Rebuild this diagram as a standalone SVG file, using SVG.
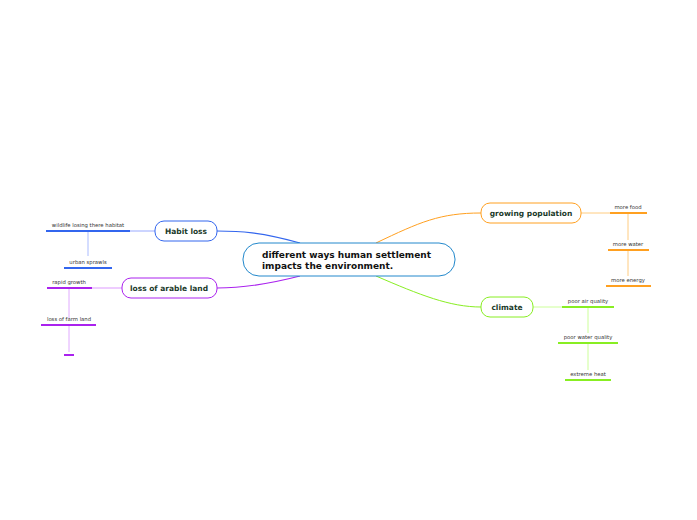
<svg xmlns="http://www.w3.org/2000/svg" width="697" height="520" viewBox="0 0 697 520">
<style>
text{font-family:"DejaVu Sans",sans-serif}
.t{font-size:7.5px;font-weight:bold;fill:#1a3a2a;text-anchor:middle}
.s{font-size:5.3px;fill:#333;text-anchor:middle}
.n{fill:#fff;stroke-width:1}
path{fill:none}
</style>
<rect width="697" height="520" fill="#fff"/>
<g id="connectors">
<path d="M300 243 C260 232 240 231 217 231" stroke="#3366ee" stroke-width="1.2"/>
<path d="M300 276 C265 285 240 288 217 288" stroke="#aa22ee" stroke-width="1.2"/>
<path d="M376 243 C420 222 440 213 481 213" stroke="#ffa020" stroke-width="1"/>
<path d="M376 276 C420 295 450 307 481 307" stroke="#88ee22" stroke-width="1"/>
<path d="M155 231 H130" stroke="#99aaff"/>
<path d="M88 231 V256" stroke="#aabbff"/>
<path d="M122 288 H92" stroke="#dd99ff"/>
<path d="M69 288 V318 M69 325 V352" stroke="#e0aaff"/>
<path d="M581 213 H610 M628 213 V240 M628 250 V276" stroke="#ffcc80"/>
<path d="M533 307 H562 M588 307 V333 M588 343 V370" stroke="#ccff99"/>
</g>
<g id="center"><rect class="n" x="243" y="243" width="212" height="33" rx="16" stroke="#2288cc"/>
<text x="262" y="258" font-size="9" font-weight="bold" fill="#111">different ways human settlement</text>
<text x="262" y="269" font-size="9" font-weight="bold" fill="#111">impacts the environment.</text></g>
<g id="habit"><rect class="n" x="155" y="221" width="62" height="20" rx="9" stroke="#3366ee"/><text class="t" x="186" y="234">Habit loss</text></g>
<g id="arable"><rect class="n" x="122" y="278" width="95" height="20" rx="9" stroke="#aa22ee"/><text class="t" x="169" y="291">loss of arable land</text></g>
<g id="growing"><rect class="n" x="481" y="203" width="100" height="20" rx="9" stroke="#ffa020"/><text class="t" x="531" y="216">growing population</text></g>
<g id="climate"><rect class="n" x="481" y="297" width="52" height="20" rx="9" stroke="#88ee22"/><text class="t" x="507" y="310">climate</text></g>
<g id="leaves">
<text class="s" x="88" y="227">wildlife losing there habitat</text><path d="M46 231 H130" stroke="#3366ee" stroke-width="2"/>
<text class="s" x="88" y="264">urban sprawls</text><path d="M64 268 H112" stroke="#3366ee" stroke-width="2"/>
<text class="s" x="69" y="284">rapid growth</text><path d="M47 288 H92" stroke="#aa22ee" stroke-width="2"/>
<text class="s" x="69" y="321">loss of farm land</text><path d="M41 325 H96" stroke="#aa22ee" stroke-width="2"/>
<path d="M64 355 H74" stroke="#aa22ee" stroke-width="2"/>
<text class="s" x="628" y="209">more food</text><path d="M610 213 H647" stroke="#ffa020" stroke-width="2"/>
<text class="s" x="628" y="246">more water</text><path d="M608 250 H649" stroke="#ffa020" stroke-width="2"/>
<text class="s" x="628" y="282">more energy</text><path d="M606 286 H651" stroke="#ffa020" stroke-width="2"/>
<text class="s" x="588" y="303">poor air quality</text><path d="M562 307 H614" stroke="#88ee22" stroke-width="2"/>
<text class="s" x="588" y="339">poor water quality</text><path d="M558 343 H618" stroke="#88ee22" stroke-width="2"/>
<text class="s" x="588" y="376">extreme heat</text><path d="M565 380 H611" stroke="#88ee22" stroke-width="2"/>
</g>
</svg>
